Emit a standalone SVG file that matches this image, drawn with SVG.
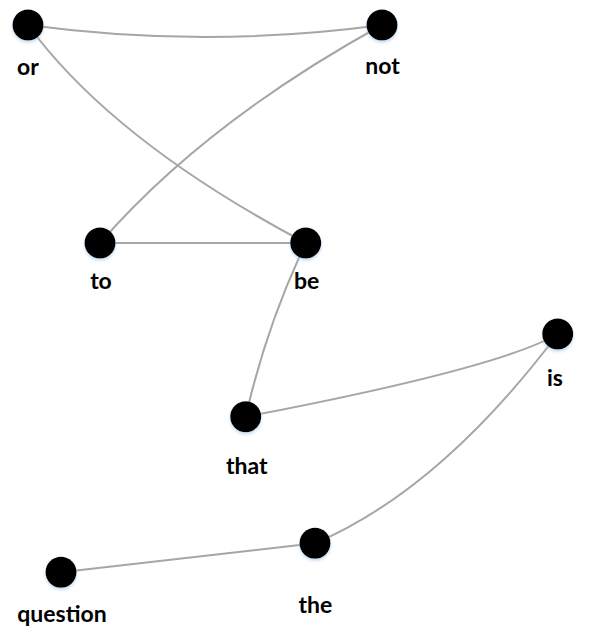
<svg xmlns="http://www.w3.org/2000/svg" width="589" height="627" viewBox="0 0 589 627">
  <defs>
    <filter id="sh" x="-50%" y="-50%" width="200%" height="200%">
      <feDropShadow dx="0" dy="2" stdDeviation="1.5" flood-color="#9dc3e6" flood-opacity="0.6"/>
    </filter>
  </defs>
  <style>
    .edge { fill: none; stroke: #a6a6a6; stroke-width: 2; }
    .node circle { fill: #000000; filter: url(#sh); }
    .node text { font-family: Lato, "Open Sans", "Liberation Sans", sans-serif; font-weight: bold; font-size: 23px; fill: #000000; text-anchor: middle; }
  </style>
  <rect width="589" height="627" fill="#ffffff"/>
  <g id="connectors">
    <path class="edge" d="M28,25 Q205,49 382,25"/>
    <path class="edge" d="M28,25 Q113,141 305.7,243"/>
    <path class="edge" d="M382,25 Q204.8,122.5 100,243"/>
    <path class="edge" d="M100,243 L305.7,243"/>
    <path class="edge" d="M305.7,243 Q266,327 245.7,416.7"/>
    <path class="edge" d="M245.7,416.7 Q500,368 557.7,334"/>
    <path class="edge" d="M557.7,334 Q440,490 315,543.3"/>
    <path class="edge" d="M315,543.3 L61,572.3"/>
  </g>
  <g id="node-or" class="node"><circle cx="28" cy="25" r="15.5"/><text x="28" y="75">or</text></g>
  <g id="node-not" class="node"><circle cx="382" cy="25" r="15.5"/><text x="382.5" y="74">not</text></g>
  <g id="node-to" class="node"><circle cx="100" cy="243" r="15.5"/><text x="101" y="288.5">to</text></g>
  <g id="node-be" class="node"><circle cx="305.7" cy="243" r="15.5"/><text x="306.7" y="288.5">be</text></g>
  <g id="node-that" class="node"><circle cx="245.7" cy="416.7" r="15.5"/><text x="246.7" y="473.5">that</text></g>
  <g id="node-is" class="node"><circle cx="557.7" cy="334" r="15.5"/><text x="555" y="386">is</text></g>
  <g id="node-the" class="node"><circle cx="315" cy="543.3" r="15.5"/><text x="315.3" y="612.5">the</text></g>
  <g id="node-question" class="node"><circle cx="61" cy="572.3" r="15.5"/><text x="62" y="621.5">question</text></g>
</svg>
